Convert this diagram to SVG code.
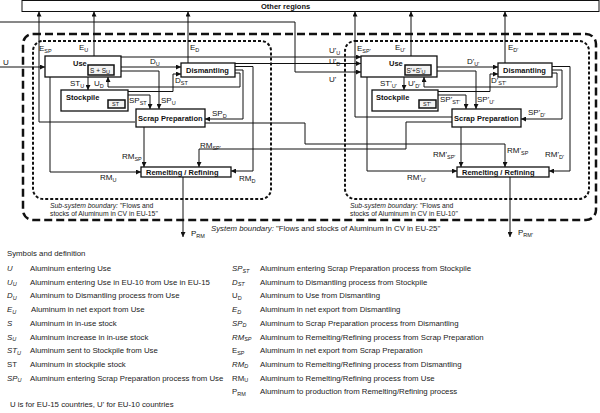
<svg xmlns="http://www.w3.org/2000/svg" width="600" height="413" viewBox="0 0 600 413">
<defs>
<marker id="ah" viewBox="0 0 10 10" refX="10" refY="5" markerWidth="5" markerHeight="5" orient="auto" markerUnits="userSpaceOnUse"><path d="M0,0 L10,5 L0,10 z" fill="#111"/></marker>
<style>
text{font-family:"Liberation Sans",Arial,sans-serif;fill:#111}
.box{fill:#fff;stroke:#111;stroke-width:1.3}
.ibox{fill:#f2f2f2;stroke:#111;stroke-width:1.5}
.bl{font-weight:bold;font-size:7.5px}
.in{font-size:6.5px}
.fl{font-size:8px}
.sb{font-size:5.5px}
.ln{fill:none;stroke:#111;stroke-width:1}
.ar{fill:none;stroke:#111;stroke-width:1;marker-end:url(#ah)}
.sysb{fill:none;stroke:#111;stroke-width:2.5;stroke-dasharray:8 4}
.subb{fill:none;stroke:#111;stroke-width:2;stroke-dasharray:3 2}
.bt{font-size:6.8px;fill:#222}
.st{font-size:7.8px;fill:#222}
.lg{font-size:7.8px;fill:#222}
.lgi{font-size:7.8px;fill:#222;font-style:italic}
.ls{font-size:5.5px}
</style>
</defs>

<g id="boundaries">
<rect class="sysb" x="23" y="34" width="573" height="186" rx="10"/>
<rect class="subb" x="33" y="41" width="238" height="158" rx="10"/>
<rect class="subb" x="345" y="41" width="244" height="158" rx="10"/>
<text class="bt" x="50" y="207.5"><tspan font-style="italic">Sub-system boundary:</tspan> "Flows and</text>
<text class="bt" x="50" y="215.5">stocks of Aluminum in CV in EU-15"</text>
<text class="bt" x="350" y="207.5"><tspan font-style="italic">Sub-system boundary:</tspan> "Flows and</text>
<text class="bt" x="350" y="215.5">stocks of Aluminum in CV in EU-10"</text>
<text class="st" x="211" y="231"><tspan font-style="italic">System boundary:</tspan> "Flows and stocks of Aluminum in CV in EU-25"</text>
</g>

<g id="connectors">
<!-- left subsystem -->
<path class="ar" d="M0,67 H45"/>
<path class="ar" d="M135,122 H39 V11.5"/>
<path class="ar" d="M94,56 V11.5"/>
<path class="ar" d="M188,63 V11.5"/>
<path class="ar" d="M121,67 H181"/>
<path class="ar" d="M121,71 H159 V109"/>
<path class="ar" d="M88,77 V90"/>
<path class="ar" d="M235,73 H240 V87 H108 V77"/>
<path class="ar" d="M128,91.5 H173 V74 H181"/>
<path class="ar" d="M128,95 H150 V109"/>
<path class="ar" d="M235,70 H243 V119 H205"/>
<path class="ar" d="M235,66.5 H253 V171 H231"/>
<path class="ar" d="M144,127 V167"/>
<path class="ar" d="M50,77 V172 H141"/>
<path class="ar" d="M183,177 V237"/>
<!-- cross flows -->
<path class="ar" d="M121,57 H361"/>
<path class="ar" d="M235,63.5 H361"/>
<path class="ar" d="M0,22 H295 V72 H361"/>
<path class="ar" d="M205,123 H305 V144 H505 V167"/>
<path class="ar" d="M452,122 H406 V149 H199 V167"/>
<!-- right subsystem -->
<path class="ar" d="M452,117 H355 V11.5"/>
<path class="ar" d="M411,56 V11.5"/>
<path class="ar" d="M505,63 V11.5"/>
<path class="ar" d="M437,67 H498"/>
<path class="ar" d="M437,71 H476 V109"/>
<path class="ar" d="M404,77 V90"/>
<path class="ar" d="M552,73 H557 V87 H424 V77"/>
<path class="ar" d="M438,91.5 H490 V74 H498"/>
<path class="ar" d="M438,95 H466 V109"/>
<path class="ar" d="M552,70 H562 V119 H521"/>
<path class="ar" d="M552,66.5 H570 V171 H549"/>
<path class="ar" d="M461,127 V167"/>
<path class="ar" d="M367,77 V171 H457"/>
<path class="ar" d="M510,177 V237"/>

<!-- flow labels left -->
<text class="fl" x="3" y="65">U</text>
<text class="fl" x="39" y="51">E<tspan class="sb" dy="2">SP</tspan></text>
<text class="fl" x="79" y="50">E<tspan class="sb" dy="2">U</tspan></text>
<text class="fl" x="190" y="50">E<tspan class="sb" dy="2">D</tspan></text>
<text class="fl" x="150" y="64">D<tspan class="sb" dy="2">U</tspan></text>
<text class="fl" x="70" y="86">ST<tspan class="sb" dy="2">U</tspan></text>
<text class="fl" x="94" y="86">U<tspan class="sb" dy="2">D</tspan></text>
<text class="fl" x="175" y="83">D<tspan class="sb" dy="2">ST</tspan></text>
<text class="fl" x="129" y="103">SP<tspan class="sb" dy="2">ST</tspan></text>
<text class="fl" x="161" y="103">SP<tspan class="sb" dy="2">U</tspan></text>
<text class="fl" x="212" y="116">SP<tspan class="sb" dy="2">D</tspan></text>
<text class="fl" x="122" y="159">RM<tspan class="sb" dy="2">SP</tspan></text>
<text class="fl" x="200" y="148">RM<tspan class="sb" dy="2">SP'</tspan></text>
<text class="fl" x="100" y="180">RM<tspan class="sb" dy="2">U</tspan></text>
<text class="fl" x="239" y="181">RM<tspan class="sb" dy="2">D</tspan></text>
<text class="fl" x="191" y="236">P<tspan class="sb" dy="2">RM</tspan></text>
<!-- cross labels -->
<text class="fl" x="329" y="53">U'<tspan class="sb" dy="2">U</tspan></text>
<text class="fl" x="329" y="64">U'<tspan class="sb" dy="2">D</tspan></text>
<text class="fl" x="329" y="82">U'</text>
<text class="fl" x="507" y="153">RM'<tspan class="sb" dy="2">SP</tspan></text>
<!-- flow labels right -->
<text class="fl" x="357" y="51">E<tspan class="sb" dy="2">SP'</tspan></text>
<text class="fl" x="395" y="50">E<tspan class="sb" dy="2">U'</tspan></text>
<text class="fl" x="508" y="50">E<tspan class="sb" dy="2">D'</tspan></text>
<text class="fl" x="467" y="64">D'<tspan class="sb" dy="2">U'</tspan></text>
<text class="fl" x="380" y="86">ST'<tspan class="sb" dy="2">U'</tspan></text>
<text class="fl" x="408" y="86">U'<tspan class="sb" dy="2">D'</tspan></text>
<text class="fl" x="491" y="83">D'<tspan class="sb" dy="2">ST'</tspan></text>
<text class="fl" x="440" y="102">SP'<tspan class="sb" dy="2">ST'</tspan></text>
<text class="fl" x="477" y="102">SP'<tspan class="sb" dy="2">U'</tspan></text>
<text class="fl" x="528" y="115">SP'<tspan class="sb" dy="2">D'</tspan></text>
<text class="fl" x="433" y="157">RM'<tspan class="sb" dy="2">SP'</tspan></text>
<text class="fl" x="545" y="157">RM'<tspan class="sb" dy="2">D'</tspan></text>
<text class="fl" x="407" y="180">RM'<tspan class="sb" dy="2">U'</tspan></text>
<text class="fl" x="518" y="235">P<tspan class="sb" dy="2">RM'</tspan></text>
</g>

<g id="other-regions">
<rect x="22" y="0.5" width="577" height="11" fill="#fff" stroke="#111" stroke-width="1"/>
<text class="bl" x="261" y="9" font-size="8px">Other regions</text>
</g>

<g id="use">
<rect class="box" x="45" y="56" width="76" height="21"/>
<text class="bl" x="73" y="65.5">Use</text>
<rect class="ibox" x="88" y="65" width="26" height="10"/>
<text class="in" x="90" y="72.5">S + S<tspan class="ls" dy="1.5">U</tspan></text>
</g>
<g id="dismantling">
<rect class="box" x="181" y="63" width="54" height="14"/>
<text class="bl" x="186" y="73">Dismantling</text>
</g>
<g id="stockpile">
<rect class="box" x="61" y="90" width="67" height="21"/>
<text class="bl" x="66" y="100">Stockpile</text>
<rect class="ibox" x="108" y="100" width="17" height="8"/>
<text class="ls" x="112" y="106.3">ST</text>
</g>
<g id="scrap-preparation">
<rect class="box" x="136" y="109" width="69" height="18"/>
<text class="bl" x="138" y="120.5">Scrap Preparation</text>
</g>
<g id="remelting">
<rect class="box" x="141" y="167" width="90" height="10"/>
<text class="bl" x="146" y="175">Remelting / Refining</text>
</g>

<g id="use-eu10">
<rect class="box" x="361" y="56" width="76" height="21"/>
<text class="bl" x="389" y="65.5">Use</text>
<rect class="ibox" x="405" y="65" width="26" height="10"/>
<text class="in" x="406.5" y="72.5">S'+S'<tspan class="ls" dy="1.5">U</tspan></text>
</g>
<g id="dismantling-eu10">
<rect class="box" x="498" y="63" width="54" height="14"/>
<text class="bl" x="503" y="73">Dismantling</text>
</g>
<g id="stockpile-eu10">
<rect class="box" x="372" y="90" width="66" height="21"/>
<text class="bl" x="376" y="100">Stockpile</text>
<rect class="ibox" x="419" y="100" width="17" height="8"/>
<text class="ls" x="423" y="106.3">ST'</text>
</g>
<g id="scrap-preparation-eu10">
<rect class="box" x="452" y="109" width="69" height="18"/>
<text class="bl" x="454" y="120.5">Scrap Preparation</text>
</g>
<g id="remelting-eu10">
<rect class="box" x="457" y="167" width="92" height="10"/>
<text class="bl" x="462" y="175">Remelting / Refining</text>
</g>

<g id="legend">
<text class="lg" x="7" y="256">Symbols and definition</text>
<text class="lgi" x="7" y="271">U</text><text class="lg" x="30" y="271">Aluminum entering Use</text>
<text class="lgi" x="7" y="284.7">U<tspan class="ls" dy="1.5">U</tspan></text><text class="lg" x="30" y="284.7">Aluminum entering Use in EU-10 from Use in EU-15</text>
<text class="lgi" x="7" y="298.4">D<tspan class="ls" dy="1.5">U</tspan></text><text class="lg" x="30" y="298.4">Aluminum to Dismantling process from Use</text>
<text class="lgi" x="7" y="312.1">E<tspan class="ls" dy="1.5">U</tspan></text><text class="lg" x="31" y="312.1">Aluminum in net export from Use</text>
<text class="lgi" x="7" y="325.8">S</text><text class="lg" x="30" y="325.8">Aluminum in in-use stock</text>
<text class="lgi" x="7" y="339.5">S<tspan class="ls" dy="1.5">U</tspan></text><text class="lg" x="30" y="339.5">Aluminum increase in in-use stock</text>
<text class="lgi" x="7" y="353.2">ST<tspan class="ls" dy="1.5">U</tspan></text><text class="lg" x="30" y="353.2">Aluminum sent to Stockpile from Use</text>
<text class="lg" x="7" y="366.9">ST</text><text class="lg" x="30" y="366.9">Aluminum in stockpile stock</text>
<text class="lgi" x="7" y="380.6">SP<tspan class="ls" dy="1.5">U</tspan></text><text class="lg" x="30" y="380.6">Aluminum entering Scrap Preparation process from Use</text>

<text class="lgi" x="232" y="271">SP<tspan class="ls" dy="1.5">ST</tspan></text><text class="lg" x="260" y="271">Aluminum entering Scrap Preparation process from Stockpile</text>
<text class="lgi" x="232" y="284.7">D<tspan class="ls" dy="1.5">ST</tspan></text><text class="lg" x="260" y="284.7">Aluminum to Dismantling process from Stockpile</text>
<text class="lg" x="232" y="298.4">U<tspan class="ls" dy="1.5">D</tspan></text><text class="lg" x="260" y="298.4">Aluminum to Use from Dismantling</text>
<text class="lgi" x="232" y="312.1">E<tspan class="ls" dy="1.5">D</tspan></text><text class="lg" x="260" y="312.1">Aluminum in net export from Dismantling</text>
<text class="lgi" x="232" y="325.8">SP<tspan class="ls" dy="1.5">D</tspan></text><text class="lg" x="260" y="325.8">Aluminum to Scrap Preparation process from Dismantling</text>
<text class="lgi" x="232" y="339.5">RM<tspan class="ls" dy="1.5">SP</tspan></text><text class="lg" x="260" y="339.5">Aluminum to Remelting/Refining process from Scrap Preparation</text>
<text class="lg" x="232" y="353.2">E<tspan class="ls" dy="1.5">SP</tspan></text><text class="lg" x="260" y="353.2">Aluminum in net export from Scrap Preparation</text>
<text class="lgi" x="232" y="366.9">RM<tspan class="ls" dy="1.5">D</tspan></text><text class="lg" x="260" y="366.9">Aluminum to Remelting/Refining process from Dismantling</text>
<text class="lg" x="232" y="380.6">RM<tspan class="ls" dy="1.5">U</tspan></text><text class="lg" x="260" y="380.6">Aluminum to Remelting/Refining process from Use</text>
<text class="lg" x="232" y="394.3">P<tspan class="ls" dy="1.5">RM</tspan></text><text class="lg" x="260" y="394.3">Aluminum to production from Remelting/Refining process</text>

<text class="lg" x="10" y="407">U is for EU-15 countries, U' for EU-10 countries</text>
</g>
</svg>
